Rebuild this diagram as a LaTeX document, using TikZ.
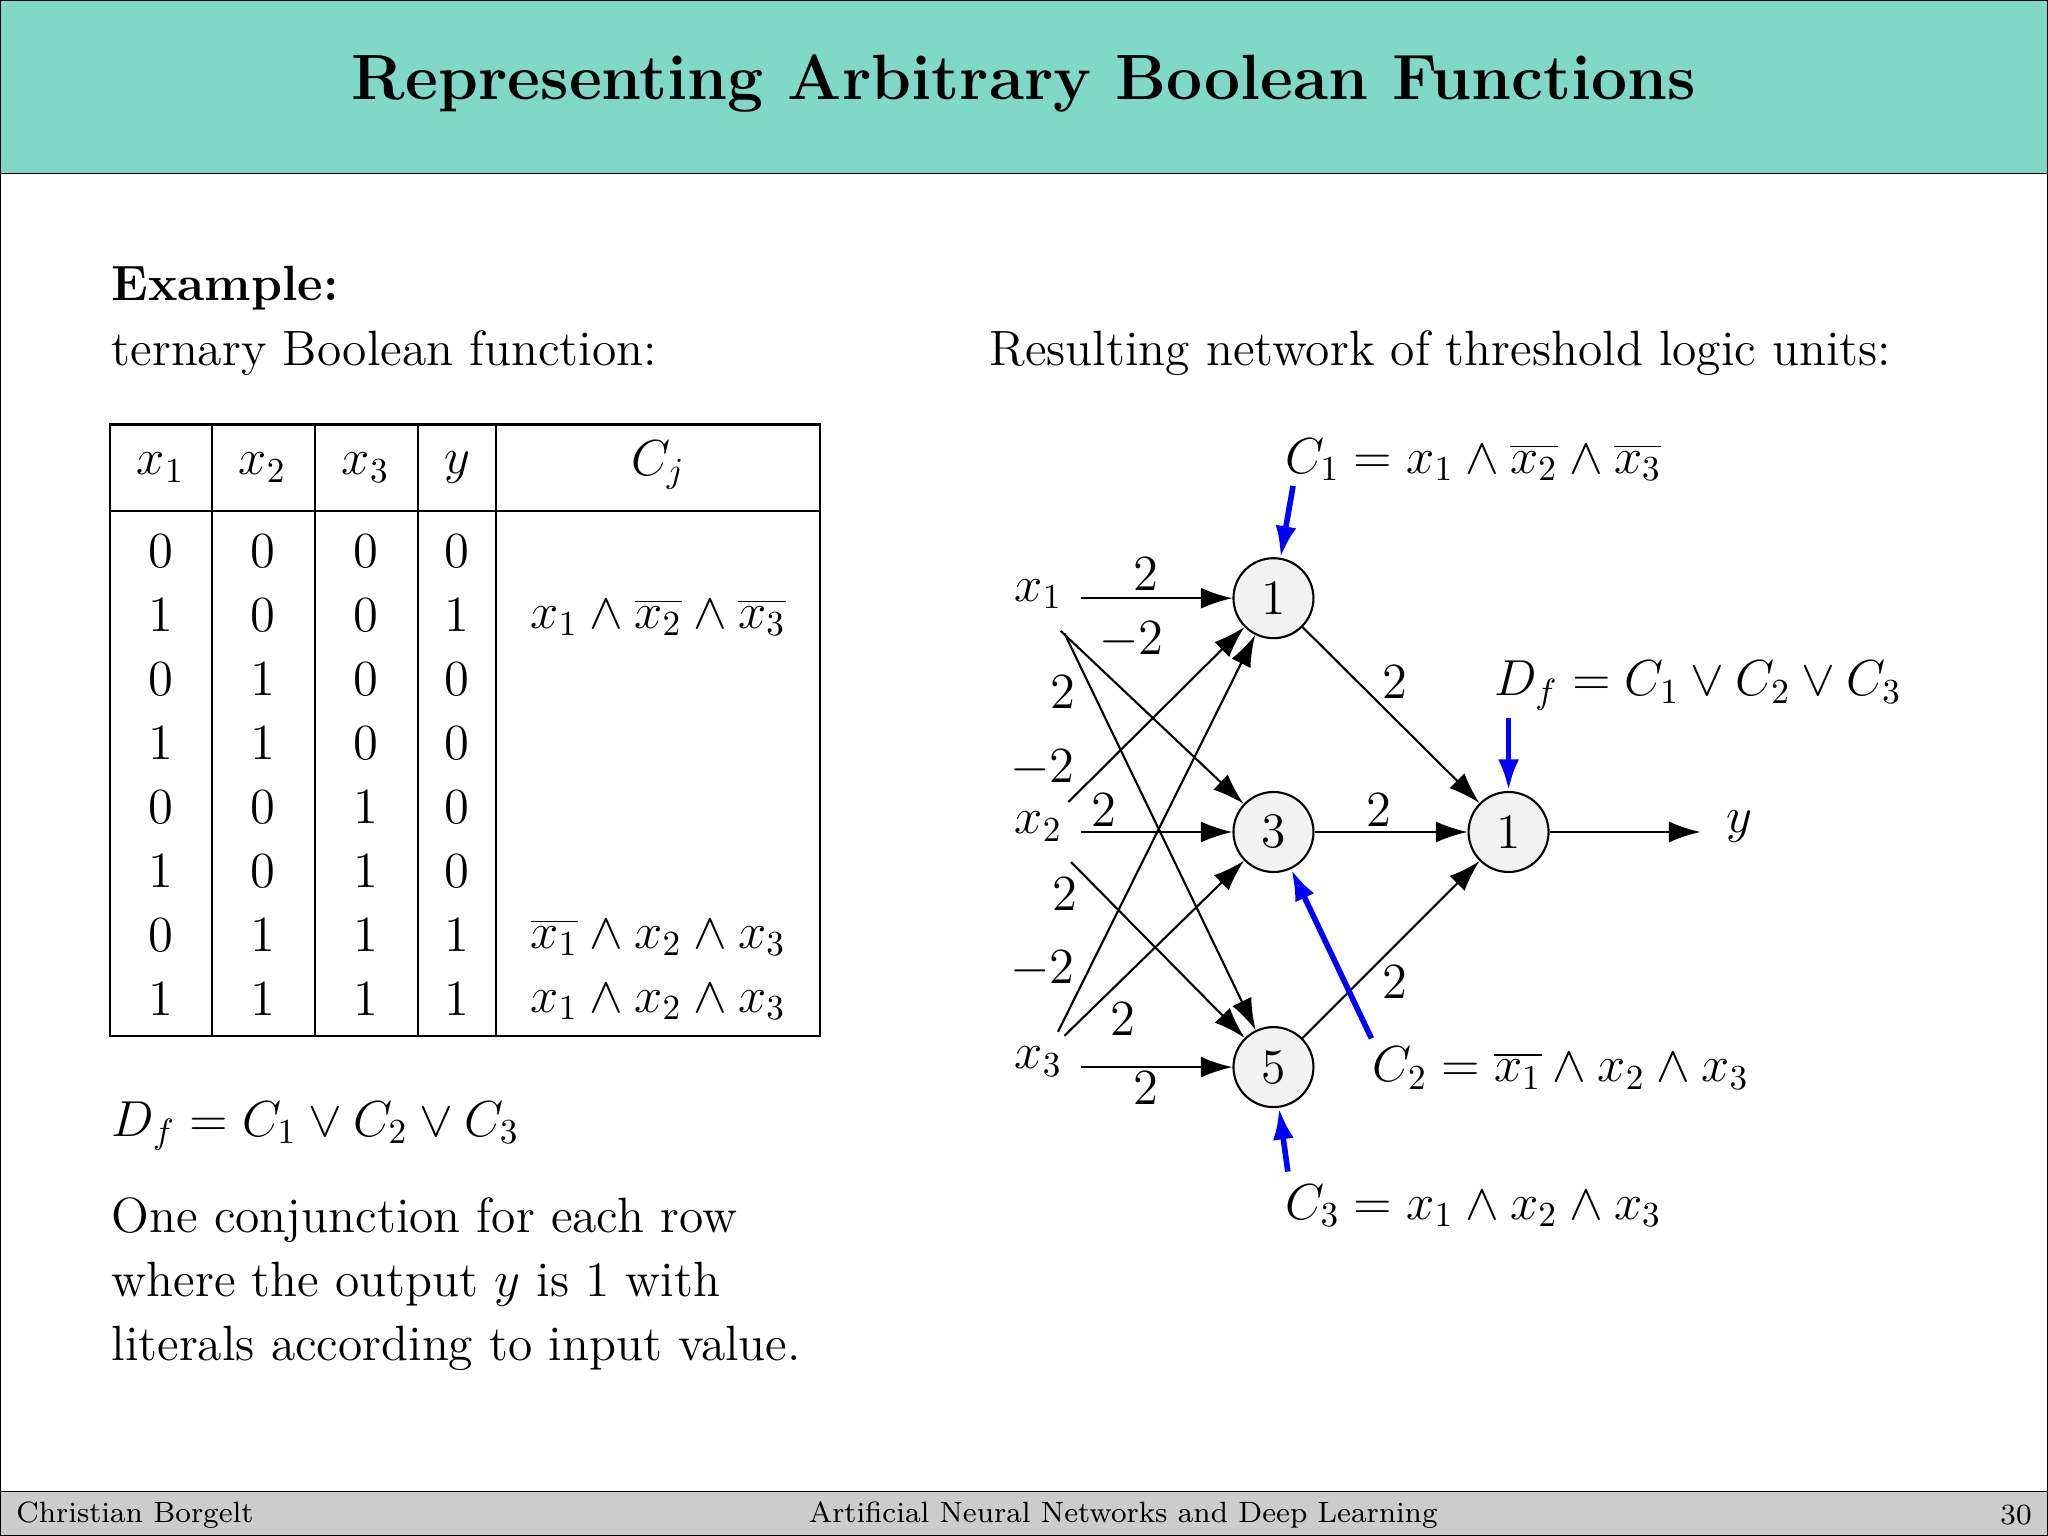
\documentclass[tikz,border=0pt]{standalone}
\usetikzlibrary{arrows.meta}
\begin{document}
\begin{tikzpicture}[x=0.013061cm,y=-0.013061cm,
  every node/.style={font=\fontsize{14.1}{16}\selectfont,inner sep=0pt},
  unit/.style={circle,draw,fill=gray!10,minimum size=0.8cm,line width=0.6pt},
  arr/.style={-{Latex[length=9pt,width=6pt]},line width=0.6pt},
  barr/.style={-{Latex[length=9pt,width=6pt]},blue,line width=1.6pt}]
\useasboundingbox (0,0) rectangle (1568,1176);
\fill[fill={rgb,255:red,128;green,217;blue,200}] (0,0) rectangle (1568,133);
\draw (0,133) -- (1568,133);
\fill[gray!40] (0,1142) rectangle (1568,1176);
\draw (0,1142) -- (1568,1142);
\draw (0.5,0.5) rectangle (1567.5,1175.5);
\node (title) at (784,64) {\fontsize{18.2}{21}\selectfont\bfseries Representing Arbitrary Boolean Functions};
\node[anchor=west,font=\fontsize{8.35}{10}\selectfont] (fl) at (12,1160) {Christian Borgelt};
\node[font=\fontsize{8.35}{10}\selectfont] (fc) at (860,1160) {Artificial Neural Networks and Deep Learning};
\node[anchor=east,font=\fontsize{8.35}{10}\selectfont] (fr) at (1556,1160) {30};

\node[anchor=base west] (ex) at (85,230) {\bfseries Example:};
\node[anchor=base west] (tb) at (85,280) {ternary Boolean function:};
\node[anchor=base west] (rn) at (757,280) {Resulting network of threshold logic units:};

% table
\draw[line width=0.6pt] (84,325) rectangle (628,793);
\draw[line width=0.6pt] (84,391) -- (628,391);
\foreach \x in {162,241,320,380} \draw[line width=0.6pt] (\x,325) -- (\x,793);
\node (h1) at (123,358) {$x_1$};
\node (h2) at (201,358) {$x_2$};
\node (h3) at (280,358) {$x_3$};
\node (h4) at (350,358) {$y$};
\node (h5) at (504,356) {$C_j$};
\foreach \a/\b/\c/\d [count=\i from 0] in {0/0/0/0,1/0/0/1,0/1/0/0,1/1/0/0,0/0/1/0,1/0/1/0,0/1/1/1,1/1/1/1}{
  \pgfmathsetmacro\yy{422+49*\i}
  \node at (123,\yy) {$\a$};
  \node at (201,\yy) {$\b$};
  \node at (280,\yy) {$\c$};
  \node at (350,\yy) {$\d$};
}
\node (r1) at (504,473) {$x_1\wedge\overline{x_2}\wedge\overline{x_3}$};
\node (r6) at (504,718) {$\overline{x_1}\wedge x_2\wedge x_3$};
\node (r7) at (504,767) {$x_1\wedge x_2\wedge x_3$};

\node[anchor=base west] (df) at (85,870) {$D_f = C_1\vee C_2\vee C_3$};
\node[anchor=base west] (p1) at (85,944) {One conjunction for each row};
\node[anchor=base west] (p2) at (85,993) {where the output $y$ is 1 with};
\node[anchor=base west] (p3) at (85,1042) {literals according to input value.};

% network
\node[unit] (n1) at (975,458) {1};
\node[unit] (n3) at (975,637) {3};
\node[unit] (n5) at (975,817) {5};
\node[unit] (no) at (1155,637) {1};
\node (x1) at (795,455) {$x_1$};
\node (x2) at (795,633) {$x_2$};
\node (x3) at (795,813) {$x_3$};
\node (y) at (1332,633) {$y$};
\coordinate (x1a) at (828,458);
\coordinate (x1b) at (812,483);
\coordinate (x1c) at (815,485);
\coordinate (x2a) at (828,637);
\coordinate (x2b) at (818,614);
\coordinate (x2c) at (820,660);
\coordinate (x3a) at (828,817);
\coordinate (x3b) at (810,790);
\coordinate (x3c) at (815,793);
\coordinate (ye) at (1302,637);
\draw[arr] (x1a) -- (n1);
\draw[arr] (x1b) -- (n3);
\draw[arr] (x1c) -- (n5);
\draw[arr] (x2a) -- (n3);
\draw[arr] (x2b) -- (n1);
\draw[arr] (x2c) -- (n5);
\draw[arr] (x3a) -- (n5);
\draw[arr] (x3b) -- (n1);
\draw[arr] (x3c) -- (n3);
\draw[arr] (n1) -- (no);
\draw[arr] (n3) -- (no);
\draw[arr] (n5) -- (no);
\draw[arr] (no) -- (ye);
\node at (877,440) {$2$};
\node at (866,490) {$-2$};
\node at (814,530) {$2$};
\node at (798,588) {$-2$};
\node at (845,620) {$2$};
\node at (815,685) {$2$};
\node at (798,742) {$-2$};
\node at (860,780) {$2$};
\node at (877,833) {$2$};
\node at (1068,522) {$2$};
\node at (1056,620) {$2$};
\node at (1068,752) {$2$};

\node (c1) at (1128,352) {$C_1 = x_1\wedge\overline{x_2}\wedge\overline{x_3}$};
\node (dfn) at (1300,525) {$D_f = C_1\vee C_2\vee C_3$};
\node (c2) at (1195,818) {$C_2 = \overline{x_1}\wedge x_2\wedge x_3$};
\node (c3) at (1128,923) {$C_3 = x_1\wedge x_2\wedge x_3$};
\coordinate (c1s) at (990,372);
\coordinate (dfs) at (1155,550);
\coordinate (c2s) at (1050,795);
\coordinate (c3s) at (986,897);
\draw[barr] (c1s) -- (n1);
\draw[barr] (dfs) -- (no);
\draw[barr] (c2s) -- (n3);
\draw[barr] (c3s) -- (n5);
\end{tikzpicture}
\end{document}
